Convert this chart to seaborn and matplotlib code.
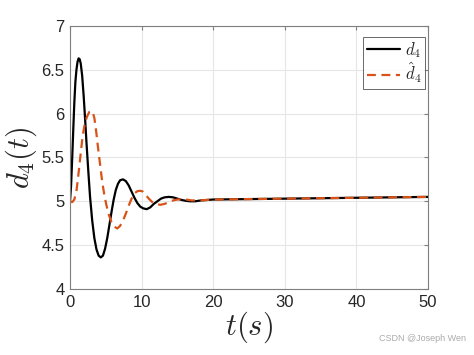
import numpy as np
import pandas as pd
import matplotlib
matplotlib.use("Agg")
import matplotlib.pyplot as plt
import seaborn as sns

# values
t_d4 = [0, 0.15, 0.3, 0.47, 0.6, 0.75, 0.9, 1.05, 1.2, 1.35, 1.5, 1.7, 1.9,
        2.1, 2.3, 2.55, 2.8, 3.1, 3.4, 3.7, 4.0, 4.3, 4.6, 4.9, 5.2, 5.5, 5.8,
        6.1, 6.4, 6.7, 7.0, 7.4, 7.8, 8.2, 8.6, 9.0, 9.4, 9.8, 10.2, 10.7,
        11.2, 11.7, 12.2, 12.7, 13.2, 13.8, 14.4, 15.0, 15.6, 16.2, 16.8,
        17.5, 18.3, 19.2, 20, 25, 30, 35, 40, 45, 50]
d4 = [5.00, 5.18, 5.48, 5.85, 6.12, 6.36, 6.50, 6.59, 6.63, 6.62, 6.57, 6.43,
      6.21, 5.95, 5.67, 5.35, 5.05, 4.78, 4.58, 4.45, 4.38, 4.36, 4.38, 4.46,
      4.58, 4.73, 4.88, 5.02, 5.13, 5.20, 5.24, 5.25, 5.23, 5.18, 5.11, 5.04,
      4.98, 4.94, 4.92, 4.91, 4.93, 4.97, 5.00, 5.03, 5.045, 5.05, 5.045,
      5.03, 5.015, 5.005, 5.00, 5.00, 5.01, 5.015, 5.02, 5.025, 5.03, 5.035,
      5.04, 5.045, 5.05]

t_d4hat = [0, 0.3, 0.6, 0.9, 1.1, 1.3, 1.5, 1.7, 1.9, 2.1, 2.4, 2.7, 3.0, 3.2,
           3.4, 3.65, 3.9, 4.2, 4.5, 4.8, 5.1, 5.45, 5.8, 6.2, 6.6, 7.0, 7.4,
           7.8, 8.2, 8.6, 9.0, 9.4, 9.8, 10.2, 10.6, 11.0, 11.5, 12.0, 12.6,
           13.2, 13.8, 14.4, 15.0, 15.6, 16.2, 17.0, 18.0, 19.0, 20, 25, 30,
           35, 40, 45, 50]
d4hat = [5.00, 4.99, 5.02, 5.12, 5.25, 5.40, 5.55, 5.70, 5.81, 5.90, 5.97,
         6.02, 6.03, 6.01, 5.95, 5.80, 5.62, 5.42, 5.22, 5.07, 4.95, 4.84,
         4.76, 4.71, 4.69, 4.72, 4.78, 4.86, 4.95, 5.03, 5.09, 5.115, 5.12,
         5.11, 5.07, 5.03, 4.99, 4.97, 4.96, 4.97, 4.99, 5.01, 5.02, 5.025,
         5.02, 5.01, 5.01, 5.015, 5.02, 5.025, 5.03, 5.035, 5.04, 5.045, 5.05]

df1 = pd.DataFrame({"t": t_d4, "y": d4})
df2 = pd.DataFrame({"t": t_d4hat, "y": d4hat})

sns.set_style("whitegrid")
plt.rcParams["font.family"] = ["Liberation Sans", "DejaVu Sans"]
plt.rcParams["mathtext.fontset"] = "cm"

fig = plt.figure(figsize=(4.74, 3.55), dpi=100)
ax = fig.add_axes([0.1477, 0.186, 0.7553, 0.741])

sns.lineplot(data=df1, x="t", y="y", ax=ax, color="black", linewidth=1.6,
             label=r"$d_4$", sort=False)
sns.lineplot(data=df2, x="t", y="y", ax=ax, color="#D95319", linewidth=1.6,
             linestyle=(0, (4, 2.5)), label=r"$\hat{d}_4$", sort=False)

ax.set_xlim(0, 50)
ax.set_ylim(4, 7)
ax.set_xticks([0, 10, 20, 30, 40, 50])
ax.set_yticks([4, 4.5, 5, 5.5, 6, 6.5, 7])
ax.set_yticklabels(["4", "4.5", "5", "5.5", "6", "6.5", "7"])
ax.grid(True, color="#e6e6e6", linewidth=0.8)
for s in ax.spines.values():
    s.set_color("#7f7f7f")
    s.set_linewidth(0.8)
ax.tick_params(direction="in", length=3, color="#7f7f7f", labelsize=12,
               labelcolor="#262626", top=True, right=True, pad=4)

ax.set_xlabel(r"$t(s)$", fontsize=22, labelpad=0)
ax.set_ylabel(r"$d_4(t)$", fontsize=22, labelpad=2)

leg = ax.legend(loc="upper right", fontsize=12, frameon=True, fancybox=False,
                borderaxespad=0.1, handlelength=2.0, handletextpad=0.3,
                borderpad=0.2, labelspacing=0.05, bbox_to_anchor=(0.997, 0.965))
leg.get_frame().set_edgecolor("#262626")
leg.get_frame().set_linewidth(0.6)

fig.text(0.983, 0.035, "CSDN @Joseph Wen", fontsize=6.5, color="#aaaaaa",
         ha="right", va="bottom")

fig.savefig("out.png", dpi=100)
